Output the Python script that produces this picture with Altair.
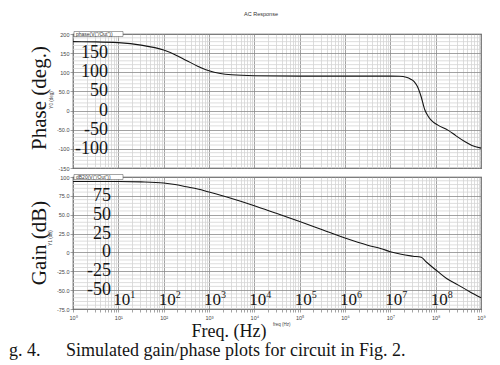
import altair as alt
import pandas as pd

# ---- data ----
phase_exp = [0, 0.5, 1.0, 1.5, 2.0, 2.25, 2.5, 2.75, 3.0, 3.25, 3.5, 4.0, 5.0, 6.0, 7.0,
             7.2, 7.35, 7.45, 7.53, 7.6, 7.68, 7.76, 7.83, 7.9, 8.05, 8.27, 8.45, 8.64, 8.8, 9.0]
phase_deg = [180, 179.5, 177.5, 171, 158, 146, 131, 116, 104, 97, 93.5, 91, 90, 90, 90,
             89.5, 87, 82, 75, 62, 36, 2, -14, -25, -38, -51, -66, -81, -91, -98]

gain_exp = [0, 1.0, 1.5, 2.0, 2.25, 2.5, 2.75, 3.0, 3.5, 4.0, 4.5, 5.0, 5.5, 6.0, 6.5,
            6.8, 7.0, 7.24, 7.5, 7.68, 7.8, 8.05, 8.25, 8.49, 8.75, 9.0]
gain_db = [94, 94, 93.5, 92, 90, 87, 84, 80, 71.5, 62, 51.5, 41, 30, 19, 9.5,
           5, 1, -2.5, -5, -6.5, -13, -25.5, -35, -43, -52, -60]

phase_ticks = [-150, -100, -50, 0, 50, 100, 150, 200]
phase_tick_text = ["-150", "-100", "-50.0", "0", "50.0", "100", "150", "200"]
gain_ticks = [-75, -50, -25, 0, 25, 50, 75, 100]
gain_tick_text = ["-75.0", "-50.0", "-25.0", "0", "25.0", "50.0", "75.0", "100"]

phase_big_vals = [150, 100, 50, 0, -50, -100]
phase_big_text = ["150", "100", "50", "0", "-50", "-100"]
gain_big_vals = [75, 50, 25, 0, -25, -50]
gain_big_text = ["75", "50", "25", "0", "-25", "-50"]
decade_exps = [1, 2, 3, 4, 5, 6, 7, 8]
decade_exp_text = ["1", "2", "3", "4", "5", "6", "7", "8"]

SERIF = "Liberation Serif"
SANS = "Liberation Sans"
W, H1, H2 = 408, 134, 132
MAJ, MIN = "#8a8a8a", "#d4d4d4"
INK = "#151515"

phase_df = pd.DataFrame({"freq": [10 ** e for e in phase_exp], "phase": phase_deg})
gain_df = pd.DataFrame({"freq": [10 ** e for e in gain_exp], "gain": gain_db})

x_vals = [m * 10 ** k for k in range(9) for m in range(1, 10)] + [10 ** 9]
is_decade = "abs(log(datum.value)/LN10 - round(log(datum.value)/LN10)) < 0.001"
sup = "['\u2070','\u00b9','\u00b2','\u00b3','\u2074','\u2075','\u2076','\u2077','\u2078','\u2079']"
xscale = alt.Scale(type="log", domain=[1, 1e9], nice=False)
phase_scale = alt.Scale(domain=[-150, 200], nice=False)
gain_scale = alt.Scale(domain=[-75, 100], nice=False)


def x_axis(labels):
    kw = dict(values=x_vals, title=None, domain=False, grid=True,
              gridColor={"condition": {"test": is_decade, "value": MAJ}, "value": MIN},
              gridWidth=0.8, labelOverlap=False, labelFlush=False)
    if labels:
        kw.update(labels=True, ticks=True, tickSize=3, tickColor="#666", tickWidth=0.6,
                  labelExpr=f"({is_decade}) ? '10' + {sup}[round(log(datum.value)/LN10)] : ''",
                  labelFont=SANS, labelFontSize=5.5, labelColor="#444", labelPadding=3)
    else:
        kw.update(labels=False, ticks=False)
    return alt.Axis(**kw)


def y_axis(vals, texts):
    mapping = "{" + ",".join(f"'{v}':'{t}'" for v, t in zip(vals, texts)) + "}"
    return alt.Axis(values=vals, title=None, domain=False, grid=True, gridColor=MAJ, gridWidth=0.8,
                    tickSize=3, tickColor="#666", tickWidth=0.6,
                    labelExpr=f"{mapping}[''+datum.value]",
                    labelFont=SANS, labelFontSize=5.5, labelColor="#444", labelPadding=1,
                    labelOverlap=False, labelFlush=False)


XA_TOP = x_axis(False)
XA_BOT = x_axis(True)
YA_PHASE = y_axis(phase_ticks, phase_tick_text)
YA_GAIN = y_axis(gain_ticks, gain_tick_text)


def minor_rules(lo, hi, major_step, minor_step, field, scale, axis):
    vals = [v for v in range(lo, hi + 1, minor_step) if v % major_step != 0]
    return alt.Chart(pd.DataFrame({field: vals})).mark_rule(color=MIN, strokeWidth=0.8).encode(
        y=alt.Y(f"{field}:Q", scale=scale, axis=axis))


def txt(s, x, y, **kw):
    return alt.Chart(pd.DataFrame({"t": [s]})).mark_text(**kw).encode(
        x=alt.value(x), y=alt.value(y), text="t:N")


def legend_box(s, w):
    box = alt.Chart(pd.DataFrame({"t": [s]})).mark_rect(fill="white", stroke="#666", strokeWidth=0.6).encode(
        x=alt.value(1), x2=alt.value(w), y=alt.value(-2.5), y2=alt.value(2.5))
    t = txt(s, 3, 0, font=SANS, fontSize=5, align="left", baseline="middle", color="#333")
    return box + t


# ---------- top panel: phase ----------
phase_line = alt.Chart(phase_df).mark_line(color=INK, strokeWidth=1.1, interpolate="monotone").encode(
    x=alt.X("freq:Q", scale=xscale, axis=XA_TOP),
    y=alt.Y("phase:Q", scale=phase_scale, axis=YA_PHASE))
phase_big = alt.Chart(pd.DataFrame({"phase": phase_big_vals, "t": phase_big_text})).mark_text(
    font=SERIF, fontSize=18, align="right", baseline="middle", color=INK).encode(
    x=alt.value(35), y=alt.Y("phase:Q", scale=phase_scale, axis=YA_PHASE), text="t:N")
top = alt.layer(
    minor_rules(-150, 200, 50, 10, "phase", phase_scale, YA_PHASE),
    phase_line, phase_big,
    legend_box('phase(V("/Out"))', 50),
    txt("AC Response", 188, -20, font=SANS, fontSize=5.5, align="center", baseline="middle", color="#333"),
    txt("Phase (deg.)", -33, 64, font=SERIF, fontSize=21, angle=270, align="center", baseline="middle", color=INK),
    txt("Y0 (deg)", -21.5, 66, font=SANS, fontSize=4.5, angle=270, align="center", baseline="middle", color="#444"),
).properties(width=W, height=H1)

# ---------- bottom panel: gain ----------
gain_line = alt.Chart(gain_df).mark_line(color=INK, strokeWidth=1.1, interpolate="monotone").encode(
    x=alt.X("freq:Q", scale=xscale, axis=XA_BOT),
    y=alt.Y("gain:Q", scale=gain_scale, axis=YA_GAIN))
gain_big = alt.Chart(pd.DataFrame({"gain": gain_big_vals, "t": gain_big_text})).mark_text(
    font=SERIF, fontSize=18, align="right", baseline="middle", color=INK).encode(
    x=alt.value(38), y=alt.Y("gain:Q", scale=gain_scale, axis=YA_GAIN), text="t:N")
dec_df = pd.DataFrame({"freq": [10 ** e for e in decade_exps], "e": decade_exp_text})
dec_base = alt.Chart(dec_df).mark_text(font=SERIF, fontSize=17, align="left", baseline="alphabetic",
                                       dx=-5, color=INK).encode(
    x=alt.X("freq:Q", scale=xscale, axis=XA_BOT), y=alt.value(H2 - 4), text=alt.value("10"))
dec_exp = alt.Chart(dec_df).mark_text(font=SERIF, fontSize=10, align="left", baseline="alphabetic",
                                      dx=12, color=INK).encode(
    x=alt.X("freq:Q", scale=xscale, axis=XA_BOT), y=alt.value(H2 - 11), text="e:N")
bottom = alt.layer(
    minor_rules(-75, 100, 25, 5, "gain", gain_scale, YA_GAIN),
    gain_line, gain_big, dec_base, dec_exp,
    legend_box('dB20(V("/Out"))', 50),
    txt("Gain (dB)", -33, 66, font=SERIF, fontSize=21, angle=270, align="center", baseline="middle", color=INK),
    txt("Y1 (dB)", -22, 61, font=SANS, fontSize=4.5, angle=270, align="center", baseline="middle", color="#444"),
    txt("Freq. (Hz)", 156, 160, font=SERIF, fontSize=18, align="center", baseline="alphabetic", color=INK),
    txt("freq (Hz)", 200, 148, font=SANS, fontSize=4.5, align="left", baseline="middle", color="#444"),
    txt("g. 4.", -64, 179, font=SERIF, fontSize=18, align="left", baseline="alphabetic", color=INK),
    txt("Simulated gain/phase plots for circuit in Fig. 2.", -7, 179, font=SERIF, fontSize=18,
        align="left", baseline="alphabetic", color=INK),
).properties(width=W, height=H2)

chart = alt.vconcat(top, bottom, spacing=9, bounds="flush").properties(
    padding={"left": 0, "top": 3, "right": 4, "bottom": 0},
    background="white",
).configure_view(stroke="#444", strokeWidth=1.2)

chart.save("out.html", embed_options={"renderer": "svg", "actions": False})
